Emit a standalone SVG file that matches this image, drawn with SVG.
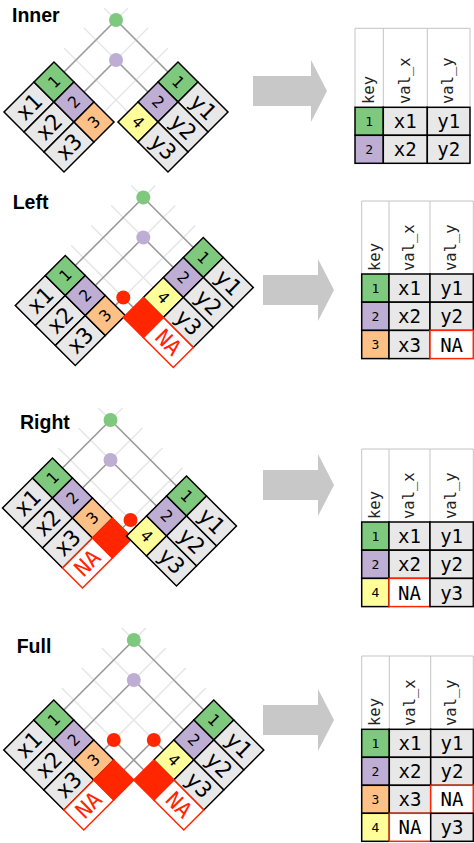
<svg xmlns="http://www.w3.org/2000/svg" width="474" height="843" viewBox="0 0 474 843">
<style>
.c{stroke:#000;stroke-width:1.5}
.v{fill:#e8e8e8}
.g{fill:#7fc97f}.p{fill:#beaed4}.o{fill:#fdc086}.yl{fill:#ffff99}
.r{fill:#ff2600;stroke:#ff2600;stroke-width:1.5}
.na{fill:#fff;stroke:#ff2600;stroke-width:1.5}
.lt{stroke:#e6e6e6;stroke-width:1.5;fill:none}
.dk{stroke:#9a9a9a;stroke-width:1.5;fill:none}
.t{font-family:"DejaVu Sans Mono",monospace;font-size:22px;text-anchor:middle;dominant-baseline:central;fill:#000}
.k{font-size:16px}
.red{fill:#ff2600}
.title{font-family:"Liberation Sans",Arial,sans-serif;font-weight:bold;font-size:19.5px;fill:#000}
.arrow{fill:#c8c8c8}
.hd{stroke:#c4c4c4;stroke-width:1;fill:none}
.ht{font-family:"DejaVu Sans Mono",monospace;font-size:15.5px;fill:#222}
.rt{font-family:"DejaVu Sans Mono",monospace;font-size:19px;text-anchor:middle;dominant-baseline:central;fill:#000}
.rk{font-size:13px}
</style>

<!-- ================= INNER ================= -->
<g id="inner">
<text class="title" x="12" y="22.3">Inner</text>
<g id="inner-connectors">
<line class="lt" x1="64" y1="72" x2="128" y2="8"/>
<line class="lt" x1="84" y1="92" x2="148" y2="28"/>
<line class="lt" x1="104" y1="112" x2="168" y2="48"/>
<line class="lt" x1="168" y1="72" x2="104" y2="8"/>
<line class="lt" x1="148" y1="92" x2="84" y2="28"/>
<line class="lt" x1="128" y1="112" x2="64" y2="48"/>
<polyline class="dk" points="64,72 116,20 168,72"/>
<polyline class="dk" points="84,92 116,60 148,92"/>
</g>
<circle id="inner-dot1" cx="116" cy="20" r="7" class="g"/>
<circle id="inner-dot2" cx="116" cy="60" r="7" class="p"/>
<g id="inner-x" transform="translate(4,112) rotate(-45)">
<rect class="c v" x="0" y="0" width="42.426" height="28.284"/>
<rect class="c g" x="42.426" y="0" width="28.284" height="28.284"/>
<rect class="c v" x="0" y="28.284" width="42.426" height="28.284"/>
<rect class="c p" x="42.426" y="28.284" width="28.284" height="28.284"/>
<rect class="c v" x="0" y="56.569" width="42.426" height="28.284"/>
<rect class="c o" x="42.426" y="56.569" width="28.284" height="28.284"/>
<text class="t" x="21.213" y="14.142">x1</text>
<text class="t k" x="56.569" y="14.142">1</text>
<text class="t" x="21.213" y="42.426">x2</text>
<text class="t k" x="56.569" y="42.426">2</text>
<text class="t" x="21.213" y="70.711">x3</text>
<text class="t k" x="56.569" y="70.711">3</text>
</g>
<g id="inner-y" transform="translate(178,62) rotate(45)">
<rect class="c g" x="0" y="0" width="28.284" height="28.284"/>
<rect class="c v" x="28.284" y="0" width="42.426" height="28.284"/>
<rect class="c p" x="0" y="28.284" width="28.284" height="28.284"/>
<rect class="c v" x="28.284" y="28.284" width="42.426" height="28.284"/>
<rect class="c yl" x="0" y="56.569" width="28.284" height="28.284"/>
<rect class="c v" x="28.284" y="56.569" width="42.426" height="28.284"/>
<text class="t k" x="14.142" y="14.142">1</text>
<text class="t" x="49.497" y="14.142">y1</text>
<text class="t k" x="14.142" y="42.426">2</text>
<text class="t" x="49.497" y="42.426">y2</text>
<text class="t k" x="14.142" y="70.711">4</text>
<text class="t" x="49.497" y="70.711">y3</text>
</g>
<polygon id="inner-arrow" class="arrow" points="253,76 311,76 311,60 327,91 311,122 311,106 253,106"/>
<g id="inner-result">
<path class="hd" d="M355,107.3V28.3H470V107.3M383.3,28.3V107.3M427.3,28.3V107.3"/>
<text class="ht" transform="translate(373.7,104) rotate(-90)">key</text>
<text class="ht" transform="translate(410,104) rotate(-90)">val_x</text>
<text class="ht" transform="translate(453,104) rotate(-90)">val_y</text>
<rect class="c g" x="355" y="107.3" width="28.3" height="28"/>
<rect class="c v" x="383.3" y="107.3" width="44" height="28"/>
<rect class="c v" x="427.3" y="107.3" width="42.7" height="28"/>
<rect class="c p" x="355" y="135.3" width="28.3" height="28"/>
<rect class="c v" x="383.3" y="135.3" width="44" height="28"/>
<rect class="c v" x="427.3" y="135.3" width="42.7" height="28"/>
<text class="rt rk" x="369.2" y="121.3">1</text>
<text class="rt" x="405.3" y="121.3">x1</text>
<text class="rt" x="448.7" y="121.3">y1</text>
<text class="rt rk" x="369.2" y="149.3">2</text>
<text class="rt" x="405.3" y="149.3">x2</text>
<text class="rt" x="448.7" y="149.3">y2</text>
</g>
</g>

<!-- ================= LEFT ================= -->
<g id="left">
<text class="title" x="12.7" y="209">Left</text>
<g id="left-connectors">
<line class="lt" x1="75.3" y1="265.5" x2="155.3" y2="185.5"/>
<line class="lt" x1="95.3" y1="285.5" x2="175.3" y2="205.5"/>
<line class="lt" x1="115.3" y1="305.5" x2="195.3" y2="225.5"/>
<line class="lt" x1="193.3" y1="247.5" x2="131.3" y2="185.5"/>
<line class="lt" x1="173.3" y1="267.5" x2="111.3" y2="205.5"/>
<line class="lt" x1="153.3" y1="287.5" x2="91.3" y2="225.5"/>
<line class="lt" x1="133.3" y1="307.5" x2="71.3" y2="245.5"/>
<polyline class="dk" points="75.3,265.5 143.3,197.5 193.3,247.5"/>
<polyline class="dk" points="95.3,285.5 143.3,237.5 173.3,267.5"/>
<polyline class="dk" points="115.3,305.5 123.3,297.5 133.3,307.5"/>
</g>
<circle cx="143.3" cy="197.5" r="7" class="g"/>
<circle cx="143.3" cy="237.5" r="7" class="p"/>
<circle cx="123.3" cy="297.5" r="7" class="red"/>
<g id="left-x" transform="translate(15.3,305.5) rotate(-45)">
<rect class="c v" x="0" y="0" width="42.426" height="28.284"/>
<rect class="c g" x="42.426" y="0" width="28.284" height="28.284"/>
<rect class="c v" x="0" y="28.284" width="42.426" height="28.284"/>
<rect class="c p" x="42.426" y="28.284" width="28.284" height="28.284"/>
<rect class="c v" x="0" y="56.569" width="42.426" height="28.284"/>
<rect class="c o" x="42.426" y="56.569" width="28.284" height="28.284"/>
<text class="t" x="21.213" y="14.142">x1</text>
<text class="t k" x="56.569" y="14.142">1</text>
<text class="t" x="21.213" y="42.426">x2</text>
<text class="t k" x="56.569" y="42.426">2</text>
<text class="t" x="21.213" y="70.711">x3</text>
<text class="t k" x="56.569" y="70.711">3</text>
</g>
<g id="left-y" transform="translate(203.3,237.5) rotate(45)">
<rect class="c g" x="0" y="0" width="28.284" height="28.284"/>
<rect class="c v" x="28.284" y="0" width="42.426" height="28.284"/>
<rect class="c p" x="0" y="28.284" width="28.284" height="28.284"/>
<rect class="c v" x="28.284" y="28.284" width="42.426" height="28.284"/>
<rect class="c yl" x="0" y="56.569" width="28.284" height="28.284"/>
<rect class="c v" x="28.284" y="56.569" width="42.426" height="28.284"/>
<rect class="na" x="28.284" y="84.853" width="42.426" height="28.284"/>
<rect class="r" x="0" y="84.853" width="28.284" height="28.284"/>
<text class="t k" x="14.142" y="14.142">1</text>
<text class="t" x="49.497" y="14.142">y1</text>
<text class="t k" x="14.142" y="42.426">2</text>
<text class="t" x="49.497" y="42.426">y2</text>
<text class="t k" x="14.142" y="70.711">4</text>
<text class="t" x="49.497" y="70.711">y3</text>
<text class="t red" x="49.497" y="98.995">NA</text>
</g>
<polygon class="arrow" points="263,275 318,275 318,259 334,290 318,321 318,305 263,305"/>
<g id="left-result">
<path class="hd" d="M361.7,274V201H473.3V274M389,201V274M430,201V274"/>
<text class="ht" transform="translate(379.8,271) rotate(-90)">key</text>
<text class="ht" transform="translate(414,271) rotate(-90)">val_x</text>
<text class="ht" transform="translate(456,271) rotate(-90)">val_y</text>
<rect class="c g" x="361.7" y="274" width="27.3" height="28.2"/>
<rect class="c v" x="389" y="274" width="41" height="28.2"/>
<rect class="c v" x="430" y="274" width="43.3" height="28.2"/>
<rect class="c p" x="361.7" y="302.2" width="27.3" height="28.2"/>
<rect class="c v" x="389" y="302.2" width="41" height="28.2"/>
<rect class="c v" x="430" y="302.2" width="43.3" height="28.2"/>
<rect class="c o" x="361.7" y="330.4" width="27.3" height="28.2"/>
<rect class="c v" x="389" y="330.4" width="41" height="28.2"/>
<rect class="na" x="430" y="330.4" width="43.3" height="28.2"/>
<text class="rt rk" x="375.3" y="288.1">1</text>
<text class="rt" x="409.5" y="288.1">x1</text>
<text class="rt" x="451.6" y="288.1">y1</text>
<text class="rt rk" x="375.3" y="316.3">2</text>
<text class="rt" x="409.5" y="316.3">x2</text>
<text class="rt" x="451.6" y="316.3">y2</text>
<text class="rt rk" x="375.3" y="344.5">3</text>
<text class="rt" x="409.5" y="344.5">x3</text>
<text class="rt red" x="451.6" y="344.5">NA</text>
</g>
</g>

<!-- ================= RIGHT ================= -->
<g id="right">
<text class="title" x="20" y="429.3">Right</text>
<g id="right-connectors">
<line class="lt" x1="62.5" y1="468" x2="122.5" y2="408"/>
<line class="lt" x1="82.5" y1="488" x2="142.5" y2="428"/>
<line class="lt" x1="102.5" y1="508" x2="162.5" y2="448"/>
<line class="lt" x1="122.5" y1="528" x2="182.5" y2="468"/>
<line class="lt" x1="176.5" y1="486" x2="98.5" y2="408"/>
<line class="lt" x1="156.5" y1="506" x2="78.5" y2="428"/>
<line class="lt" x1="136.5" y1="526" x2="58.5" y2="448"/>
<polyline class="dk" points="62.5,468 110.5,420 176.5,486"/>
<polyline class="dk" points="82.5,488 110.5,460 156.5,506"/>
<polyline class="dk" points="122.5,528 130.5,520 136.5,526"/>
</g>
<circle cx="110.5" cy="420" r="7" class="g"/>
<circle cx="110.5" cy="460" r="7" class="p"/>
<circle cx="130.5" cy="520" r="7" class="red"/>
<g id="right-x" transform="translate(2.5,508) rotate(-45)">
<rect class="c v" x="0" y="0" width="42.426" height="28.284"/>
<rect class="c g" x="42.426" y="0" width="28.284" height="28.284"/>
<rect class="c v" x="0" y="28.284" width="42.426" height="28.284"/>
<rect class="c p" x="42.426" y="28.284" width="28.284" height="28.284"/>
<rect class="c v" x="0" y="56.569" width="42.426" height="28.284"/>
<rect class="c o" x="42.426" y="56.569" width="28.284" height="28.284"/>
<rect class="na" x="0" y="84.853" width="42.426" height="28.284"/>
<rect class="r" x="42.426" y="84.853" width="28.284" height="28.284"/>
<text class="t" x="21.213" y="14.142">x1</text>
<text class="t k" x="56.569" y="14.142">1</text>
<text class="t" x="21.213" y="42.426">x2</text>
<text class="t k" x="56.569" y="42.426">2</text>
<text class="t" x="21.213" y="70.711">x3</text>
<text class="t k" x="56.569" y="70.711">3</text>
<text class="t red" x="21.213" y="98.995">NA</text>
</g>
<g id="right-y" transform="translate(186.5,476) rotate(45)">
<rect class="c g" x="0" y="0" width="28.284" height="28.284"/>
<rect class="c v" x="28.284" y="0" width="42.426" height="28.284"/>
<rect class="c p" x="0" y="28.284" width="28.284" height="28.284"/>
<rect class="c v" x="28.284" y="28.284" width="42.426" height="28.284"/>
<rect class="c yl" x="0" y="56.569" width="28.284" height="28.284"/>
<rect class="c v" x="28.284" y="56.569" width="42.426" height="28.284"/>
<text class="t k" x="14.142" y="14.142">1</text>
<text class="t" x="49.497" y="14.142">y1</text>
<text class="t k" x="14.142" y="42.426">2</text>
<text class="t" x="49.497" y="42.426">y2</text>
<text class="t k" x="14.142" y="70.711">4</text>
<text class="t" x="49.497" y="70.711">y3</text>
</g>
<polygon class="arrow" points="263,470 318,470 318,454 334,485 318,516 318,500 263,500"/>
<g id="right-result">
<path class="hd" d="M361.7,522V449H473.3V522M389,449V522M430,449V522"/>
<text class="ht" transform="translate(379.8,519) rotate(-90)">key</text>
<text class="ht" transform="translate(414,519) rotate(-90)">val_x</text>
<text class="ht" transform="translate(456,519) rotate(-90)">val_y</text>
<rect class="c g" x="361.7" y="522" width="27.3" height="28.2"/>
<rect class="c v" x="389" y="522" width="41" height="28.2"/>
<rect class="c v" x="430" y="522" width="43.3" height="28.2"/>
<rect class="c p" x="361.7" y="550.2" width="27.3" height="28.2"/>
<rect class="c v" x="389" y="550.2" width="41" height="28.2"/>
<rect class="c v" x="430" y="550.2" width="43.3" height="28.2"/>
<rect class="c yl" x="361.7" y="578.4" width="27.3" height="28.2"/>
<rect class="na" x="389" y="578.4" width="41" height="28.2"/>
<rect class="c v" x="430" y="578.4" width="43.3" height="28.2"/>
<text class="rt rk" x="375.3" y="536.1">1</text>
<text class="rt" x="409.5" y="536.1">x1</text>
<text class="rt" x="451.6" y="536.1">y1</text>
<text class="rt rk" x="375.3" y="564.3">2</text>
<text class="rt" x="409.5" y="564.3">x2</text>
<text class="rt" x="451.6" y="564.3">y2</text>
<text class="rt rk" x="375.3" y="592.5">4</text>
<text class="rt red" x="409.5" y="592.5">NA</text>
<text class="rt" x="451.6" y="592.5">y3</text>
</g>
</g>

<!-- ================= FULL ================= -->
<g id="full">
<text class="title" x="16.7" y="653.3">Full</text>
<g id="full-connectors">
<line class="lt" x1="63.8" y1="710" x2="145.8" y2="628"/>
<line class="lt" x1="83.8" y1="730" x2="165.8" y2="648"/>
<line class="lt" x1="103.8" y1="750" x2="185.8" y2="668"/>
<line class="lt" x1="123.8" y1="770" x2="205.8" y2="688"/>
<line class="lt" x1="203.8" y1="710" x2="121.8" y2="628"/>
<line class="lt" x1="183.8" y1="730" x2="101.8" y2="648"/>
<line class="lt" x1="163.8" y1="750" x2="81.8" y2="668"/>
<line class="lt" x1="143.8" y1="770" x2="61.8" y2="688"/>
<polyline class="dk" points="63.8,710 133.8,640 203.8,710"/>
<polyline class="dk" points="83.8,730 133.8,680 183.8,730"/>
<polyline class="dk" points="103.8,750 113.8,740 143.8,770"/>
<polyline class="dk" points="123.8,770 153.8,740 163.8,750"/>
</g>
<circle cx="133.8" cy="640" r="7" class="g"/>
<circle cx="133.8" cy="680" r="7" class="p"/>
<circle cx="113.8" cy="740" r="7" class="red"/>
<circle cx="153.8" cy="740" r="7" class="red"/>
<g id="full-x" transform="translate(3.8,750) rotate(-45)">
<rect class="c v" x="0" y="0" width="42.426" height="28.284"/>
<rect class="c g" x="42.426" y="0" width="28.284" height="28.284"/>
<rect class="c v" x="0" y="28.284" width="42.426" height="28.284"/>
<rect class="c p" x="42.426" y="28.284" width="28.284" height="28.284"/>
<rect class="c v" x="0" y="56.569" width="42.426" height="28.284"/>
<rect class="c o" x="42.426" y="56.569" width="28.284" height="28.284"/>
<rect class="na" x="0" y="84.853" width="42.426" height="28.284"/>
<rect class="r" x="42.426" y="84.853" width="28.284" height="28.284"/>
<text class="t" x="21.213" y="14.142">x1</text>
<text class="t k" x="56.569" y="14.142">1</text>
<text class="t" x="21.213" y="42.426">x2</text>
<text class="t k" x="56.569" y="42.426">2</text>
<text class="t" x="21.213" y="70.711">x3</text>
<text class="t k" x="56.569" y="70.711">3</text>
<text class="t red" x="21.213" y="98.995">NA</text>
</g>
<g id="full-y" transform="translate(213.8,700) rotate(45)">
<rect class="c g" x="0" y="0" width="28.284" height="28.284"/>
<rect class="c v" x="28.284" y="0" width="42.426" height="28.284"/>
<rect class="c p" x="0" y="28.284" width="28.284" height="28.284"/>
<rect class="c v" x="28.284" y="28.284" width="42.426" height="28.284"/>
<rect class="c yl" x="0" y="56.569" width="28.284" height="28.284"/>
<rect class="c v" x="28.284" y="56.569" width="42.426" height="28.284"/>
<rect class="na" x="28.284" y="84.853" width="42.426" height="28.284"/>
<rect class="r" x="0" y="84.853" width="28.284" height="28.284"/>
<text class="t k" x="14.142" y="14.142">1</text>
<text class="t" x="49.497" y="14.142">y1</text>
<text class="t k" x="14.142" y="42.426">2</text>
<text class="t" x="49.497" y="42.426">y2</text>
<text class="t k" x="14.142" y="70.711">4</text>
<text class="t" x="49.497" y="70.711">y3</text>
<text class="t red" x="49.497" y="98.995">NA</text>
</g>
<polygon class="arrow" points="263,705 318,705 318,689 334,720 318,751 318,735 263,735"/>
<g id="full-result">
<path class="hd" d="M361.7,729.3V656H473.3V729.3M389.3,656V729.3M430.7,656V729.3"/>
<text class="ht" transform="translate(380,726) rotate(-90)">key</text>
<text class="ht" transform="translate(414.5,726) rotate(-90)">val_x</text>
<text class="ht" transform="translate(456,726) rotate(-90)">val_y</text>
<rect class="c g" x="361.7" y="729.3" width="27.6" height="28"/>
<rect class="c v" x="389.3" y="729.3" width="41.4" height="28"/>
<rect class="c v" x="430.7" y="729.3" width="42.6" height="28"/>
<rect class="c p" x="361.7" y="757.3" width="27.6" height="28"/>
<rect class="c v" x="389.3" y="757.3" width="41.4" height="28"/>
<rect class="c v" x="430.7" y="757.3" width="42.6" height="28"/>
<rect class="c o" x="361.7" y="785.3" width="27.6" height="28"/>
<rect class="c v" x="389.3" y="785.3" width="41.4" height="28"/>
<rect class="na" x="430.7" y="785.3" width="42.6" height="28"/>
<rect class="c yl" x="361.7" y="813.3" width="27.6" height="28"/>
<rect class="na" x="389.3" y="813.3" width="41.4" height="28"/>
<rect class="c v" x="430.7" y="813.3" width="42.6" height="28"/>
<text class="rt rk" x="375.5" y="743.3">1</text>
<text class="rt" x="410" y="743.3">x1</text>
<text class="rt" x="452" y="743.3">y1</text>
<text class="rt rk" x="375.5" y="771.3">2</text>
<text class="rt" x="410" y="771.3">x2</text>
<text class="rt" x="452" y="771.3">y2</text>
<text class="rt rk" x="375.5" y="799.3">3</text>
<text class="rt" x="410" y="799.3">x3</text>
<text class="rt red" x="452" y="799.3">NA</text>
<text class="rt rk" x="375.5" y="827.3">4</text>
<text class="rt red" x="410" y="827.3">NA</text>
<text class="rt" x="452" y="827.3">y3</text>
</g>
</g>
</svg>
